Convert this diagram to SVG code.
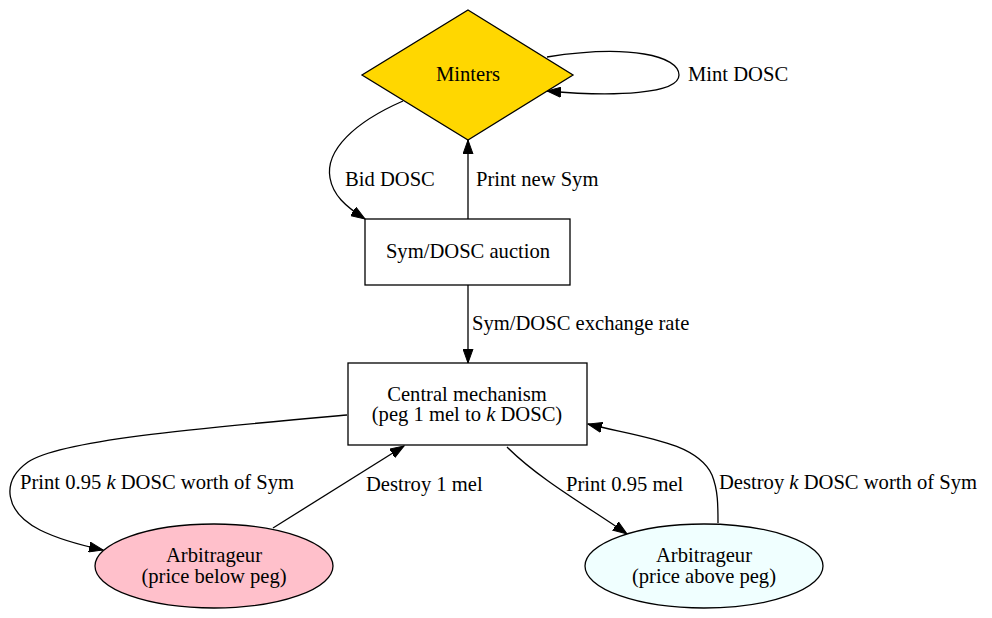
<svg xmlns="http://www.w3.org/2000/svg" width="992" height="618" viewBox="0 0 992 618">
<style>
  text { font-family: "Liberation Serif", "Times New Roman", serif; font-size: 20.6px; fill: #000; }
  .c { text-anchor: middle; }
  .i { font-style: italic; }
  .node { stroke: #000; stroke-width: 1.3; }
  .edge { fill: none; stroke: #000; stroke-width: 1.3; }
</style>
<defs>
  <marker id="arr" markerUnits="userSpaceOnUse" markerWidth="15" markerHeight="11" refX="14" refY="5.5" orient="auto">
    <path d="M0,0.5 L14,5.5 L0,10.5 z" fill="#000" stroke="#000" stroke-width="1"/>
  </marker>
</defs>
<rect width="992" height="618" fill="#fff"/>
<g id="edges">
  <g id="e-mint">
    <path class="edge" d="M547,57 C630,44 679,56 679,75 C679,94 615,97 547,91" marker-end="url(#arr)"/>
    <text x="688" y="81">Mint DOSC</text>
  </g>
  <g id="e-bid">
    <path class="edge" d="M403,101 C355,122 325,150 330,178 C333,195 345,206 365,219" marker-end="url(#arr)"/>
    <text x="345" y="186">Bid DOSC</text>
  </g>
  <g id="e-print-sym">
    <path class="edge" d="M468,219 L468,140" marker-end="url(#arr)"/>
    <text x="476" y="186">Print new Sym</text>
  </g>
  <g id="e-rate">
    <path class="edge" d="M468,285 L468,363" marker-end="url(#arr)"/>
    <text x="472" y="330">Sym/DOSC exchange rate</text>
  </g>
  <g id="e-print-k">
    <path class="edge" d="M347,415 C200,428 60,440 28,462 C0,482 5,512 40,530 C60,540 80,545 103,550" marker-end="url(#arr)"/>
    <text x="20" y="489">Print 0.95 <tspan class="i">k</tspan> DOSC worth of Sym</text>
  </g>
  <g id="e-destroy-mel">
    <path class="edge" d="M273,528 L404,446" marker-end="url(#arr)"/>
    <text x="366" y="491">Destroy 1 mel</text>
  </g>
  <g id="e-print-mel">
    <path class="edge" d="M507,447 C540,480 590,508 627,534" marker-end="url(#arr)"/>
    <text x="566" y="491">Print 0.95 mel</text>
  </g>
  <g id="e-destroy-k">
    <path class="edge" d="M718,523 C718,505 718,490 712,475 C697,442 640,437 588,424" marker-end="url(#arr)"/>
    <text x="719" y="489">Destroy <tspan class="i">k</tspan> DOSC worth of Sym</text>
  </g>
</g>
<g id="minters">
  <polygon class="node" points="468,10 573,75 468,140 362,75" fill="#ffd700"/>
  <text class="c" x="468" y="81">Minters</text>
</g>
<g id="auction">
  <rect class="node" x="365" y="219" width="205" height="66" fill="#fff"/>
  <text class="c" x="468" y="258">Sym/DOSC auction</text>
</g>
<g id="central">
  <rect class="node" x="348" y="363" width="239" height="82" fill="#fff"/>
  <text class="c" x="467" y="401">Central mechanism</text>
  <text class="c" x="467" y="421">(peg 1 mel to <tspan class="i">k</tspan> DOSC)</text>
</g>
<g id="arb-below">
  <ellipse class="node" cx="214" cy="566" rx="119" ry="42" fill="#ffc0cb"/>
  <text class="c" x="214" y="562">Arbitrageur</text>
  <text class="c" x="214" y="583">(price below peg)</text>
</g>
<g id="arb-above">
  <ellipse class="node" cx="704" cy="566" rx="119" ry="42" fill="#f0ffff"/>
  <text class="c" x="704" y="562">Arbitrageur</text>
  <text class="c" x="704" y="583">(price above peg)</text>
</g>
</svg>
